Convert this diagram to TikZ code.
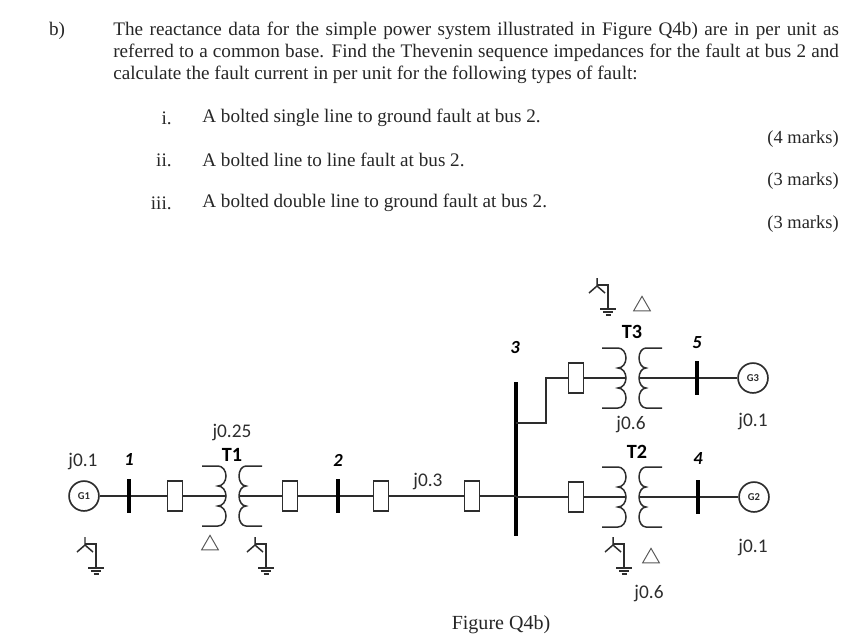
\documentclass[tikz,border=0pt]{standalone}
\usepackage{fontspec}
\setmainfont{Liberation Serif}
\newfontfamily\labelfont{Carlito}
\usetikzlibrary{positioning}
\usetikzlibrary{shapes.geometric}
\definecolor{ink}{RGB}{45,45,45}

\begin{document}
\begin{tikzpicture}[
x=0.02cm, y=-0.02cm,
wire/.style={draw=ink, line width=0.85pt},
busbar/.style={rectangle, fill=black, inner sep=0pt, minimum width=1.9pt},
breaker/.style={rectangle, draw=ink, line width=0.75pt, fill=white, inner sep=0pt, minimum width=8.5pt, minimum height=17pt},
gen/.style={circle, draw=ink, line width=0.95pt, fill=white, inner sep=0pt, minimum size=17pt, font=\labelfont\bfseries\fontsize{6}{7}\selectfont, text=ink},
delta/.style={regular polygon, regular polygon sides=3, draw=ink!80, line width=0.55pt, inner sep=0pt, minimum size=11pt},
val/.style={font=\labelfont\fontsize{11}{12}\selectfont, text=ink, inner sep=0pt},
tname/.style={font=\labelfont\bfseries\fontsize{11.5}{12}\selectfont, text=black, inner sep=0pt},
busname/.style={font=\labelfont\bfseries\itshape\fontsize{10.5}{11}\selectfont, text=black, inner sep=0pt},
body/.style={font=\fontsize{10.9}{12.3}\selectfont, text=black!85, inner sep=0pt},
marks/.style={body, anchor=east, font=\fontsize{10.5}{12}\selectfont},
xfmr/.pic={
  \coordinate (-in) at (-1,0);
  \coordinate (-out) at (13,0);
  \draw[wire] (-24,-30) -- (-8,-30)
    arc[start angle=-90, end angle=90, x radius=8, y radius=10]
    arc[start angle=-90, end angle=90, x radius=8, y radius=10]
    arc[start angle=-90, end angle=90, x radius=8, y radius=10] -- (-24,30);
  \draw[wire] (36,-30) -- (20,-30)
    arc[start angle=-90, end angle=-270, x radius=7, y radius=10]
    arc[start angle=-90, end angle=-270, x radius=7, y radius=10]
    arc[start angle=-90, end angle=-270, x radius=7, y radius=10] -- (36,30);
},
wyegnd/.pic={
  \draw[wire] (0,-8) -- (0,0) (-8,7) -- (0,0) -- (8,7);
  \draw[wire] (0,-1) -- (11,-1) -- (11,23);
  \draw[wire] (3,23) -- (19,23) (6,26) -- (16,26) (8.5,29) -- (13.5,29);
},
]
\useasboundingbox (0,0) rectangle (864,636);

%Question
\node[body] (part) at (57,31) {b)};
\node[body, anchor=north west, text width=413pt, align=justify] (question) at (113,22)
  {The reactance data for the simple power system illustrated in Figure Q4b) are in per unit as referred to a common base. Find the Thevenin sequence impedances for the fault at bus 2 and calculate the fault current in per unit for the following types of fault:};
\node[body, anchor=east] (num_i)   at (172,118) {i.};
\node[body, anchor=west] (item_i)  at (202,118) {A bolted single line to ground fault at bus 2.};
\node[body, anchor=east] (num_ii)  at (172,160) {ii.};
\node[body, anchor=west] (item_ii) at (202,160) {A bolted line to line fault at bus 2.};
\node[body, anchor=east] (num_iii) at (172,203) {iii.};
\node[body, anchor=west] (item_iii) at (202,203) {A bolted double line to ground fault at bus 2.};
\node[marks] (marks_i)   at (839,139) {(4 marks)};
\node[marks] (marks_ii)  at (839,181) {(3 marks)};
\node[marks] (marks_iii) at (839,224) {(3 marks)};

%Nodes
\node[gen]     (g1)  at (84,496)  {G1};
\node[busbar, minimum height=19pt]  (bus1) at (129,496) {};
\node[breaker] (cb1) at (175,496) {};
\pic (t1) at (226,496) {xfmr};
\node[breaker] (cb2) at (290,496) {};
\node[busbar, minimum height=19pt]  (bus2) at (338,496) {};
\node[breaker] (cb3) at (381,496) {};
\node[breaker] (cb4) at (472,496) {};
\node[busbar, minimum height=88pt]  (bus3) at (516,459) {};
\node[breaker] (cb5) at (576,497) {};
\pic (t2) at (626,497) {xfmr};
\node[busbar, minimum height=19pt]  (bus4) at (698,497) {};
\node[gen]     (g2)  at (754,497) {G2};
\node[breaker] (cb6) at (576,378) {};
\pic (t3) at (626,378) {xfmr};
\node[busbar, minimum height=19pt]  (bus5) at (697,378) {};
\node[gen]     (g3)  at (753,378) {G3};
\coordinate (tap) at (bus3.center |- 0,423);
\coordinate (bend) at (546,423);

%Earthing
\pic at (85,545) {wyegnd};
\pic at (255,545) {wyegnd};
\pic at (613,545) {wyegnd};
\pic at (597,286) {wyegnd};
\node[delta] (d1) at (210,545) {};
\node[delta] (d2) at (651,558) {};
\node[delta] (d3) at (642,306) {};

%Labels
\node[val] (x_g1) at (83,461) {j0.1};
\node[val] (x_t1) at (232,432) {j0.25};
\node[val] (x_l)  at (428,481) {j0.3};
\node[val] (x_t3) at (631,424) {j0.6};
\node[val] (x_g3) at (753,421) {j0.1};
\node[val] (x_g2) at (753,547) {j0.1};
\node[val] (x_t2) at (649,593) {j0.6};
\node[tname] (n_t1) at (232,455) {T1};
\node[tname] (n_t2) at (637,452) {T2};
\node[tname] (n_t3) at (632,332) {T3};
\node[busname] (n_1) at (129,460) {1};
\node[busname] (n_2) at (338,460) {2};
\node[busname] (n_3) at (515,348) {3};
\node[busname] (n_4) at (698,459) {4};
\node[busname] (n_5) at (697,343) {5};
\node[body, font=\fontsize{11.4}{12}\selectfont] (caption) at (501,625) {Figure Q4b)};

%Lines
\draw[wire] (g1) -- (bus1);
\draw[wire] (bus1) -- (cb1);
\draw[wire] (cb1) -- (t1-in);
\draw[wire] (t1-out) -- (cb2);
\draw[wire] (cb2) -- (bus2);
\draw[wire] (bus2) -- (cb3);
\draw[wire] (cb3) -- (cb4);
\draw[wire] (cb4) -- (bus3 |- cb4);
\draw[wire] (bus3 |- cb5) -- (cb5);
\draw[wire] (cb5) -- (t2-in);
\draw[wire] (t2-out) -- (bus4);
\draw[wire] (bus4) -- (g2);
\draw[wire] (tap) -- (bend) |- (cb6);
\draw[wire] (cb6) -- (t3-in);
\draw[wire] (t3-out) -- (bus5);
\draw[wire] (bus5) -- (g3);
\end{tikzpicture}
\end{document}
